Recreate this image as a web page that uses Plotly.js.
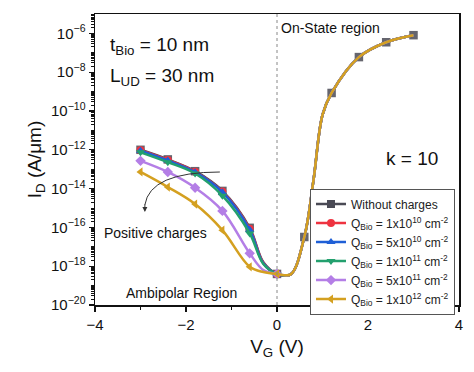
<!DOCTYPE html>
<html>
<head>
<meta charset="utf-8">
<script src="https://cdn.plot.ly/plotly-3.0.1.min.js"></script>
<style>html,body{margin:0;padding:0;background:#fff;}#chart{width:474px;height:372px;}</style>
</head>
<body>
<div id="chart"></div>
<script>
// Gate voltage points used for the curves (markers at the 0.6 V steps)
const vgLine = [-3, -2.4, -1.8, -1.2, -0.6, -0.3, 0, 0.3, 0.6, 0.8, 1.0, 1.2, 1.8, 2.4, 3];
const vgMarkers = [-3, -2.4, -1.8, -1.2, -0.6, 0, 0.6, 1.2, 1.8, 2.4, 3];

// Drain current (A/um)
const idNoCharge = [1.0e-12, 3.2e-13, 7.9e-14, 7.6e-15, 9.5e-17, 1.6e-18, 4.0e-19, 3.8e-19, 3.2e-17, 2.5e-14, 6.3e-11, 8.5e-10, 6.0e-8, 3.5e-7, 8.1e-7];
const idQ1e10    = [9.5e-13, 3.0e-13, 7.4e-14, 7.0e-15, 8.5e-17, 1.5e-18, 4.0e-19, 3.8e-19, 3.2e-17, 2.5e-14, 6.3e-11, 8.5e-10, 6.0e-8, 3.5e-7, 8.1e-7];
const idQ5e10    = [9.0e-13, 2.8e-13, 7.0e-14, 6.5e-15, 7.5e-17, 1.4e-18, 4.0e-19, 3.8e-19, 3.2e-17, 2.5e-14, 6.3e-11, 8.5e-10, 6.0e-8, 3.5e-7, 8.1e-7];
const idQ1e11    = [7.4e-13, 2.3e-13, 6.0e-14, 4.3e-15, 4.9e-17, 1.3e-18, 4.0e-19, 3.8e-19, 3.2e-17, 2.5e-14, 6.3e-11, 8.5e-10, 6.0e-8, 3.5e-7, 8.1e-7];
const idQ5e11    = [2.7e-13, 7.2e-14, 1.1e-14, 7.1e-16, 4.6e-18, 6.3e-19, 4.0e-19, 3.8e-19, 3.2e-17, 2.5e-14, 6.3e-11, 8.5e-10, 6.0e-8, 3.5e-7, 8.1e-7];
const idQ1e12    = [7.2e-14, 1.2e-14, 1.6e-15, 7.2e-17, 9.3e-19, 5.0e-19, 4.0e-19, 3.8e-19, 3.2e-17, 2.5e-14, 6.3e-11, 8.5e-10, 6.0e-8, 3.5e-7, 8.1e-7];

// y tick exponents (labels 10^e)
const yTickExponents = [-20, -18, -16, -14, -12, -10, -8, -6];

const seriesNames = [
  'Without charges',
  'Q<sub>Bio</sub> = 1x10<sup>10</sup> cm<sup>-2</sup>',
  'Q<sub>Bio</sub> = 5x10<sup>10</sup> cm<sup>-2</sup>',
  'Q<sub>Bio</sub> = 1x10<sup>11</sup> cm<sup>-2</sup>',
  'Q<sub>Bio</sub> = 5x10<sup>11</sup> cm<sup>-2</sup>',
  'Q<sub>Bio</sub> = 1x10<sup>12</sup> cm<sup>-2</sup>'
];
const seriesData = [idNoCharge, idQ1e10, idQ5e10, idQ1e11, idQ5e11, idQ1e12];
const seriesColors = ['#4a4a55', '#ee3340', '#1f5fd6', '#23a06e', '#b47ee6', '#d4a020'];
const seriesSymbols = ['square', 'circle', 'triangle-up', 'triangle-down', 'diamond', 'triangle-left'];
const markerMaxVg = [3, 0, 0, 0, 0, 0];

const traces = [];
const legendTraces = [];
seriesData.forEach((ys, i) => {
  traces.push({
    x: vgLine, y: ys, mode: 'lines', type: 'scatter',
    line: {color: seriesColors[i], width: 2.5, shape: 'spline', smoothing: 1},
    showlegend: false, hoverinfo: 'skip'
  });
  const mx = [], my = [];
  vgLine.forEach((v, k) => {
    if (vgMarkers.includes(v) && v <= markerMaxVg[i]) { mx.push(v); my.push(ys[k]); }
  });
  traces.push({
    x: mx, y: my, mode: 'markers', type: 'scatter',
    marker: {color: seriesColors[i], size: i === 0 ? 8.5 : 8, symbol: seriesSymbols[i], opacity: i === 0 ? 0.85 : 1},
    showlegend: false
  });
  legendTraces.push({
    x: [null], y: [null], mode: 'lines+markers', type: 'scatter', name: seriesNames[i],
    line: {color: seriesColors[i], width: 2.5},
    marker: {color: seriesColors[i], size: 8, symbol: seriesSymbols[i]}
  });
});

const yTickVals = yTickExponents.map(e => Math.pow(10, e));
const yTickText = yTickExponents.map(e => '10<sup>' + String(e).replace('-', '\u2212') + '</sup>');
// minor tick positions for the log axis: 1..9 x 10^n
const yMinorTicks = [];
for (let e = -20; e < -5; e++) {
  for (let m = 1; m <= 9; m++) {
    if (!(m === 1 && yTickExponents.includes(e))) yMinorTicks.push(m * Math.pow(10, e));
  }
}

const FONT = 'Liberation Sans, Arial, sans-serif';
const layout = {
  width: 474, height: 372,
  margin: {l: 95, r: 15, t: 14, b: 67},
  paper_bgcolor: '#fff', plot_bgcolor: '#fff',
  font: {family: FONT, color: '#111', size: 14},
  showlegend: true,
  legend: {
    x: 0.989, xanchor: 'right', y: 0.40, yanchor: 'top',
    bgcolor: '#fff', bordercolor: '#555', borderwidth: 1,
    font: {family: FONT, size: 12, color: '#222'},
    tracegroupgap: 0, itemwidth: 30
  },
  xaxis: {
    range: [-4, 4], dtick: 2, tick0: 0,
    showline: true, linecolor: '#111', linewidth: 1.5, mirror: true,
    ticks: 'outside', ticklen: 5, tickwidth: 1.2, tickcolor: '#111',
    minor: {dtick: 1, ticks: 'outside', ticklen: 3, tickcolor: '#111', tickwidth: 1},
    showgrid: false, zeroline: false,
    tickfont: {family: FONT, size: 15, color: '#111'},
    title: {text: 'V<sub>G</sub> (V)', font: {family: FONT, size: 19, color: '#111'}, standoff: 8}
  },
  yaxis: {
    type: 'log', range: [-20, -5],
    tickmode: 'array', tickvals: yTickVals, ticktext: yTickText,
    showline: true, linecolor: '#111', linewidth: 1.5, mirror: true,
    ticks: 'outside', ticklen: 5, tickwidth: 1.2, tickcolor: '#111',
    minor: {tickmode: 'array', tickvals: yMinorTicks, ticks: 'outside', ticklen: 3, tickcolor: '#111', tickwidth: 1},
    showgrid: false, zeroline: false,
    tickfont: {family: FONT, size: 15, color: '#111'},
    title: {text: 'I<sub>D</sub> (A/μm)', font: {family: FONT, size: 19, color: '#111'}, standoff: 4}
  },
  shapes: [
    {type: 'line', xref: 'x', yref: 'paper', x0: 0, x1: 0, y0: 0, y1: 1,
     line: {color: '#888', width: 1, dash: 'dot'}},
    {type: 'path', xref: 'paper', yref: 'paper',
     path: 'M 0.343 0.457 Q 0.151 0.457 0.137 0.344',
     line: {color: '#333', width: 1}}
  ],
  annotations: [
    {xref: 'paper', yref: 'paper', x: 0.137, y: 0.320, ax: 0, ay: -9, showarrow: true,
     arrowhead: 2, arrowsize: 1, arrowwidth: 1, arrowcolor: '#333', text: ''},
    {xref: 'paper', yref: 'paper', x: 0.036, y: 0.89, xanchor: 'left', yanchor: 'middle', showarrow: false,
     text: 't<sub>Bio</sub> = 10 nm', font: {family: FONT, size: 19, color: '#111'}},
    {xref: 'paper', yref: 'paper', x: 0.036, y: 0.785, xanchor: 'left', yanchor: 'middle', showarrow: false,
     text: 'L<sub>UD</sub> = 30 nm', font: {family: FONT, size: 19, color: '#111'}},
    {xref: 'paper', yref: 'paper', x: 0.505, y: 0.952, xanchor: 'left', yanchor: 'middle', showarrow: false,
     text: 'On-State region', font: {family: FONT, size: 14, color: '#111'}},
    {xref: 'paper', yref: 'paper', x: 0.794, y: 0.505, xanchor: 'left', yanchor: 'middle', showarrow: false,
     text: 'k = 10', font: {family: FONT, size: 19, color: '#111'}},
    {xref: 'paper', yref: 'paper', x: 0.019, y: 0.247, xanchor: 'left', yanchor: 'middle', showarrow: false,
     text: 'Positive charges', font: {family: FONT, size: 14, color: '#111'}},
    {xref: 'paper', yref: 'paper', x: 0.080, y: 0.041, xanchor: 'left', yanchor: 'middle', showarrow: false,
     text: 'Ambipolar Region', font: {family: FONT, size: 14, color: '#111'}}
  ]
};

Plotly.newPlot('chart', traces.concat(legendTraces), layout, {staticPlot: true, displayModeBar: false});
</script>
</body>
</html>
